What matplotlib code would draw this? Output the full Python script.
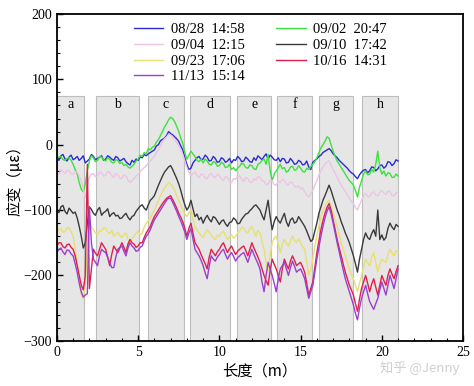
import numpy as np
import matplotlib
matplotlib.use("Agg")
import matplotlib.pyplot as plt
from matplotlib.patches import Rectangle

plt.rcParams['font.family'] = ['Liberation Serif', 'Noto Sans CJK SC', 'DejaVu Sans']

STEP = 0.125  # sampling step along length (m)

labels = ["08/28  14:58", "09/02  20:47", "09/04  12:15", "09/10  17:42",
          "09/23  17:06", "10/16  14:31", "11/13  15:14"]
colors = ["#2b2bd6", "#3ee03e", "#ecc4e4", "#3a3a3a", "#e6e070", "#e0204a", "#9b3fd0"]

s0828 = [-20, -24, -17, -15, -22, -25, -19, -16,
         -23, -21, -18, -24, -21, -17, -28, -25,
         -22, -15, -18, -23, -21, -19, -17, -24,
         -22, -17, -19, -22, -24, -18, -20, -25,
         -23, -21, -26, -29, -31, -24, -27, -22,
         -24, -19, -20, -15, -17, -14, -12, -10,
         -8, -2, 0, 6, 8, 10, 14, 20,
         17, 15, 12, 9, 5, -2, -8, -20,
         -30, -38, -36, -28, -24, -20, -18, -23,
         -22, -16, -19, -25, -24, -18, -21, -27,
         -26, -20, -22, -27, -25, -21, -28, -23,
         -24, -18, -21, -26, -25, -19, -22, -26,
         -27, -20, -24, -17, -20, -23, -18, -14,
         -22, -16, -19, -23, -24, -20, -26, -21,
         -22, -28, -27, -21, -25, -30, -29, -24,
         -26, -31, -30, -25, -34, -38, -27, -24,
         -22, -18, -16, -12, -10, -8, -6, -9,
         -14, -17, -20, -24, -27, -30, -33, -36,
         -40, -43, -45, -49, -52, -46, -42, -39,
         -38, -43, -40, -34, -35, -40, -37, -32,
         -31, -36, -33, -26, -27, -32, -29, -23,
         -25]
s0902 = [-22, -19, -18, -23, -24, -21, -20, -24,
         -30, -38, -45, -58, -68, -72, -60, -40,
         -25, -17, -20, -26, -24, -18, -19, -23,
         -25, -20, -22, -27, -28, -23, -24, -29,
         -27, -32, -30, -34, -36, -33, -30, -25,
         -22, -16, -18, -12, -14, -6, -8, -4,
         -2, 4, 8, 14, 20, 27, 32, 38,
         42, 40, 35, 28, 20, 10, 2, -12,
         -22, -16, -10, -14, -18, -24, -26, -22,
         -28, -22, -25, -30, -31, -26, -27, -33,
         -32, -27, -29, -35, -34, -30, -38, -35,
         -40, -36, -33, -28, -30, -35, -36, -31,
         -32, -37, -38, -30, -28, -24, -22, -30,
         -15, -40, -55, -45, -40, -35, -30, -37,
         -35, -42, -40, -34, -33, -39, -38, -32,
         -36, -41, -42, -36, -38, -34, -30, -26,
         -20, -12, -5, 0, 5, 12, 10, 0,
         -10, -18, -25, -30, -35, -40, -45, -50,
         -55, -58, -62, -70, -80, -65, -55, -45,
         -40, -46, -45, -38, -42, -30, -10, -35,
         -45, -40, -48, -43, -44, -50, -50, -45,
         -48]
s0904 = [-42, -45, -38, -41, -44, -39, -40, -44,
         -46, -41, -42, -48, -55, -68, -80, -62,
         -50, -45, -44, -49, -48, -42, -43, -48,
         -47, -41, -42, -47, -50, -44, -46, -51,
         -52, -46, -48, -54, -58, -55, -52, -48,
         -45, -41, -38, -35, -32, -28, -25, -21,
         -18, -12, -8, -2, 5, 9, 12, 16,
         15, 12, 8, 3, -2, -8, -15, -25,
         -35, -42, -48, -44, -42, -47, -50, -45,
         -46, -51, -52, -46, -44, -49, -50, -45,
         -47, -52, -55, -49, -50, -56, -58, -52,
         -53, -49, -48, -53, -56, -50, -52, -57,
         -58, -52, -54, -49, -50, -55, -56, -61,
         -60, -54, -55, -61, -62, -56, -58, -53,
         -55, -60, -62, -57, -58, -64, -65, -63,
         -68, -66, -72, -77, -80, -75, -70, -62,
         -55, -46, -40, -34, -30, -26, -25, -31,
         -38, -44, -50, -57, -62, -67, -72, -77,
         -82, -87, -90, -96, -100, -92, -85, -78,
         -75, -79, -80, -74, -72, -77, -78, -73,
         -70, -74, -76, -71, -72, -78, -78, -73,
         -75]
s0910 = [-100, -104, -95, -93, -102, -106, -97, -101,
         -105, -103, -112, -125, -140, -158, -150, -120,
         -95, -99, -105, -108, -100, -96, -108, -104,
         -102, -98, -110, -106, -104, -109, -108, -113,
         -112, -108, -105, -111, -115, -110, -108, -102,
         -98, -94, -92, -97, -100, -92, -85, -82,
         -78, -70, -62, -55, -48, -42, -38, -34,
         -32, -38, -45, -52, -60, -70, -82, -92,
         -100, -95, -85, -98, -110, -106, -115, -111,
         -120, -113, -108, -114, -118, -110, -112, -117,
         -122, -117, -115, -121, -125, -119, -118, -112,
         -115, -121, -120, -114, -110, -106, -105, -101,
         -98, -94, -92, -96, -100, -108, -115, -100,
         -85, -110, -130, -118, -110, -116, -120, -112,
         -105, -118, -125, -115, -112, -120, -118, -110,
         -115, -120, -125, -132, -140, -148, -145, -132,
         -120, -105, -95, -85, -78, -70, -62, -70,
         -80, -90, -100, -108, -118, -126, -135, -142,
         -150, -160, -170, -182, -195, -175, -160, -145,
         -135, -142, -145, -136, -130, -140, -100, -145,
         -138, -146, -142, -128, -120, -126, -130, -122,
         -125]
s0923 = [-135, -130, -128, -134, -133, -127, -127, -133,
         -140, -160, -180, -205, -230, -236, -215, -160,
         -120, -126, -130, -135, -138, -131, -132, -127,
         -128, -133, -136, -131, -140, -137, -134, -139,
         -142, -137, -135, -144, -150, -143, -140, -136,
         -132, -138, -135, -126, -120, -116, -112, -106,
         -100, -92, -85, -78, -72, -66, -62, -58,
         -60, -64, -70, -78, -85, -92, -100, -106,
         -110, -104, -100, -114, -125, -130, -135, -139,
         -142, -135, -130, -134, -138, -142, -145, -138,
         -140, -135, -132, -139, -145, -141, -138, -143,
         -140, -135, -132, -126, -128, -133, -135, -129,
         -125, -133, -140, -131, -135, -148, -160, -180,
         -195, -168, -150, -143, -140, -152, -165, -152,
         -145, -151, -155, -147, -140, -146, -150, -144,
         -150, -156, -160, -180, -200, -190, -175, -155,
         -140, -124, -110, -101, -95, -88, -85, -94,
         -105, -114, -125, -138, -150, -160, -170, -180,
         -190, -198, -205, -215, -225, -212, -200, -186,
         -175, -181, -185, -172, -165, -180, -195, -183,
         -175, -178, -180, -168, -160, -166, -170, -162,
         -165]
s1016 = [-155, -150, -150, -156, -158, -153, -152, -157,
         -160, -170, -185, -200, -215, -222, -200, -30,
         -220, -190, -160, -166, -170, -160, -150, -155,
         -160, -172, -185, -168, -155, -160, -165, -158,
         -150, -157, -165, -152, -145, -150, -152, -157,
         -155, -150, -150, -142, -135, -130, -125, -117,
         -110, -105, -100, -95, -90, -86, -82, -80,
         -78, -84, -90, -97, -105, -111, -118, -128,
         -140, -128, -120, -135, -150, -155, -160, -168,
         -175, -182, -190, -172, -160, -165, -170, -164,
         -160, -154, -150, -158, -165, -159, -155, -162,
         -168, -163, -160, -157, -155, -162, -170, -160,
         -150, -158, -165, -172, -180, -190, -200, -208,
         -215, -192, -175, -183, -190, -200, -210, -190,
         -175, -183, -190, -178, -170, -177, -185, -182,
         -180, -187, -195, -212, -230, -220, -210, -188,
         -165, -147, -130, -116, -105, -96, -90, -100,
         -115, -130, -145, -158, -170, -183, -195, -205,
         -215, -222, -230, -243, -255, -236, -220, -210,
         -200, -212, -225, -213, -205, -218, -230, -215,
         -200, -208, -215, -200, -190, -198, -205, -194,
         -185]
s1113 = [-165, -160, -158, -164, -168, -161, -162, -167,
         -170, -182, -195, -212, -225, -233, -230, -228,
         -95, -150, -175, -180, -185, -170, -160, -163,
         -165, -172, -180, -188, -188, -172, -160, -157,
         -155, -163, -170, -158, -150, -155, -158, -163,
         -162, -157, -155, -147, -140, -136, -130, -122,
         -115, -110, -105, -100, -95, -90, -85, -82,
         -82, -88, -95, -102, -110, -117, -125, -134,
         -145, -135, -128, -144, -160, -165, -170, -177,
         -185, -196, -205, -186, -170, -175, -178, -172,
         -168, -163, -160, -168, -175, -169, -165, -171,
         -178, -173, -170, -167, -165, -172, -180, -170,
         -160, -168, -175, -182, -190, -210, -225, -200,
         -180, -190, -200, -212, -225, -205, -190, -185,
         -180, -190, -200, -188, -178, -186, -195, -192,
         -190, -197, -205, -220, -235, -225, -215, -195,
         -175, -157, -140, -125, -112, -102, -95, -106,
         -120, -135, -150, -164, -178, -192, -205, -215,
         -225, -235, -245, -258, -268, -250, -235, -225,
         -215, -228, -240, -246, -252, -243, -235, -222,
         -210, -220, -230, -215, -200, -210, -220, -205,
         -190]

series = [s0828, s0902, s0904, s0910, s0923, s1016, s1113]

box_names = ["a", "b", "c", "d", "e", "f", "g", "h"]
box_start = [0.0, 2.4, 5.6, 8.2, 11.1, 13.55, 16.15, 18.8]
box_end = [1.65, 5.05, 7.8, 10.65, 13.2, 15.7, 18.2, 21.0]
box_top = 75

fig = plt.figure(figsize=(4.74, 3.86), dpi=100)
ax = fig.add_axes([0.120, 0.117, 0.857, 0.847])

for n, s, e in zip(box_names, box_start, box_end):
    ax.add_patch(Rectangle((s, -300), e - s, box_top + 300, facecolor="#e6e6e6",
                           edgecolor="#bdbdbd", linewidth=0.8, zorder=0))
    ax.text((s + e) / 2, 62, n, ha="center", va="center", fontsize=10,
            family=['Liberation Serif'], zorder=1)

draw_order = [2, 1, 0, 4, 3, 5, 6]
handles = {}
for i in draw_order:
    y = np.array(series[i], dtype=float)
    x = np.arange(len(y)) * STEP
    h, = ax.plot(x, y, color=colors[i], lw=1.0, label=labels[i], zorder=2 + i * 0.01)
    handles[i] = h

leg_order = [0, 2, 4, 6, 1, 3, 5]
leg = ax.legend([handles[i] for i in leg_order], [labels[i] for i in leg_order],
                ncol=2, loc="upper left", bbox_to_anchor=(0.19, 0.972), frameon=False,
                fontsize=10.5, handlelength=2.0, columnspacing=2.2, labelspacing=0.17,
                handletextpad=0.5, borderpad=0.0, borderaxespad=0.0)

ax.set_xlim(0, 25)
ax.set_ylim(-300, 200)
ax.set_xticks([0, 5, 10, 15, 20, 25])
ax.set_yticks([-300, -200, -100, 0, 100, 200])
ax.set_xticks(np.arange(0, 26, 1), minor=True)
ax.set_yticks(np.arange(-300, 201, 20), minor=True)
ax.tick_params(which="both", direction="in", top=False, right=False, labelsize=10)
ax.tick_params(which="major", length=4, width=1)
ax.tick_params(which="minor", length=2.5, width=0.8)
for sp in ax.spines.values():
    sp.set_linewidth(1.3)

ax.set_xlabel("长度（m）", fontsize=11, family=['Noto Sans CJK SC'], labelpad=3)
ax.set_ylabel("应变（με）", fontsize=11, family=['Noto Sans CJK SC', 'DejaVu Sans'], labelpad=0)

fig.text(0.885, 0.047, "知乎 @Jenny", fontsize=9.5, color="#cfcfcf",
         family=['Noto Sans CJK SC', 'DejaVu Sans'], ha="center", va="center")

fig.savefig("out.png", dpi=100)
